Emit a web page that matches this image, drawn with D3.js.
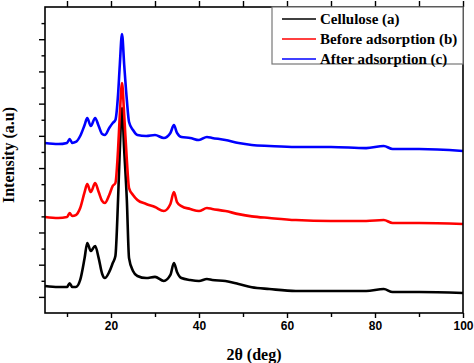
<!DOCTYPE html>
<html>
<head>
<meta charset="utf-8">
<script src="https://cdn.jsdelivr.net/npm/d3@7"></script>
<style>
  body { margin: 0; background: #fff; }
  svg { display: block; }
</style>
</head>
<body>
<div class="card"></div>
<script>
/* global d3 */

// two-theta positions (deg)
var angles = [5, 8, 10, 10.6, 11.2, 12, 13, 14, 14.6, 15.4, 16.4, 17.2, 18, 18.6, 19.6, 20.4, 21, 21.6, 22, 22.5, 23, 23.6, 24.1, 25, 26, 28, 30, 32, 33.5, 34.3, 35, 36, 38, 40, 41.8, 43, 46, 49, 52, 56, 62, 70, 78, 82, 84, 90, 100];

// intensities (a.u., stacked as in the figure)
var cellulose = [168, 161, 161, 185, 161, 161, 205, 341, 435, 385, 416, 341, 242, 217, 255, 310, 354, 702, 1012, 1273, 1012, 702, 341, 261, 230, 217, 224, 199, 236, 310, 255, 217, 205, 199, 211, 205, 199, 180, 160, 149, 137, 137, 137, 149, 130, 130, 124];
var beforeAds = [596, 590, 596, 620, 602, 608, 652, 751, 801, 751, 807, 751, 695, 683, 733, 789, 807, 1012, 1229, 1428, 1229, 950, 776, 733, 702, 677, 658, 633, 677, 751, 689, 664, 646, 633, 652, 646, 633, 614, 600, 590, 577, 571, 571, 577, 559, 559, 553];
var afterAds = [1056, 1049, 1056, 1080, 1056, 1062, 1099, 1167, 1211, 1161, 1211, 1161, 1111, 1105, 1149, 1180, 1198, 1354, 1540, 1732, 1540, 1323, 1186, 1136, 1105, 1099, 1105, 1087, 1118, 1167, 1118, 1093, 1087, 1074, 1093, 1087, 1074, 1055, 1043, 1037, 1031, 1031, 1024, 1037, 1018, 1018, 1006];

var seriesNames = ["Cellulose (a)", "Before adsorption (b)", "After adsorption (c)"];
var seriesColors = ["#000000", "#ff0000", "#0000ff"];
var xTicks = [20, 40, 60, 80, 100];

var width = 474, height = 363;
var margin = {left: 45, right: 11, top: 7, bottom: 50};

var svg = d3.select(".card").append("svg")
    .attr("width", width)
    .attr("height", height);

var x = d3.scaleLinear().domain([5, 100]).range([margin.left, width - margin.right]);
var y = d3.scaleLinear().domain([0, 1900]).range([height - margin.bottom, margin.top]);

var serif = "'Liberation Serif', 'Times New Roman', serif";
var sans = "'Liberation Sans', Arial, sans-serif";

// curves
var allSeries = [cellulose, beforeAds, afterAds];
var line = d3.line()
    .x(function(d) { return x(d[0]); })
    .y(function(d) { return y(d[1]); })
    .curve(d3.curveMonotoneX);

allSeries.forEach(function(vals, i) {
    svg.append("path")
        .datum(angles.map(function(a, j) { return [a, vals[j]]; }))
        .attr("fill", "none")
        .attr("stroke", seriesColors[i])
        .attr("stroke-width", 2.6)
        .attr("stroke-linejoin", "round")
        .attr("d", line);
});

// frame
var x0 = x.range()[0], x1 = x.range()[1], y0 = y.range()[0], y1 = y.range()[1];
svg.append("rect")
    .attr("x", x0).attr("y", y1)
    .attr("width", x1 - x0).attr("height", y0 - y1)
    .attr("fill", "none").attr("stroke", "#000").attr("stroke-width", 1.6);

// bottom axis
var xMinor = d3.range(10, 100, 20);
var bottom = svg.append("g").attr("transform", "translate(0," + y0 + ")")
    .call(d3.axisBottom(x).tickValues(xTicks).tickSize(5).tickPadding(3).tickFormat(d3.format("d")));
bottom.select(".domain").remove();
bottom.selectAll("line").attr("stroke-width", 1.4);
bottom.selectAll("text").attr("font-family", sans).attr("font-weight", "bold").attr("font-size", 12);
svg.append("g").attr("transform", "translate(0," + y0 + ")")
    .call(d3.axisBottom(x).tickValues(xMinor).tickSize(4).tickFormat(""))
    .call(function(g) { g.select(".domain").remove(); g.selectAll("line").attr("stroke-width", 1.4); });

// top axis ticks
svg.append("g").attr("transform", "translate(0," + y1 + ")")
    .call(d3.axisTop(x).tickValues(xTicks.concat(xMinor)).tickSize(6).tickFormat(""))
    .call(function(g) { g.select(".domain").remove(); g.selectAll("line").attr("stroke-width", 1.4); });

// left axis ticks, no labels
var yMajor = d3.range(100, 1900, 200);
var yMinor = d3.range(200, 1900, 200);
svg.append("g").attr("transform", "translate(" + x0 + ",0)")
    .call(d3.axisLeft(y).tickValues(yMajor).tickSize(6).tickFormat(""))
    .call(function(g) { g.select(".domain").remove(); g.selectAll("line").attr("stroke-width", 1.4); });
svg.append("g").attr("transform", "translate(" + x0 + ",0)")
    .call(d3.axisLeft(y).tickValues(yMinor).tickSize(3.5).tickFormat(""))
    .call(function(g) { g.select(".domain").remove(); g.selectAll("line").attr("stroke-width", 1.4); });

// axis titles
svg.append("text")
    .attr("x", (x0 + x1) / 2).attr("y", 360)
    .attr("text-anchor", "middle")
    .attr("font-family", serif).attr("font-weight", "bold").attr("font-size", 16)
    .text("2\u03B8 (deg)");

svg.append("text")
    .attr("transform", "translate(14,155) rotate(-90)")
    .attr("text-anchor", "middle")
    .attr("font-family", serif).attr("font-weight", "bold").attr("font-size", 16)
    .text("Intensity (a.u)");

// legend
var legend = svg.append("g").attr("transform", "translate(272,7)");
legend.append("rect")
    .attr("width", x1 - 272).attr("height", 57)
    .attr("fill", "#fff").attr("stroke", "#777").attr("stroke-width", 1.2);
seriesNames.forEach(function(name, i) {
    var cy = 12 + i * 20;
    legend.append("line")
        .attr("x1", 10).attr("x2", 44).attr("y1", cy).attr("y2", cy)
        .attr("stroke", seriesColors[i]).attr("stroke-width", 1.6);
    legend.append("text")
        .attr("x", 48).attr("y", cy + 5)
        .attr("font-family", serif).attr("font-weight", "bold").attr("font-size", 15)
        .text(name);
});
</script>
</body>
</html>
